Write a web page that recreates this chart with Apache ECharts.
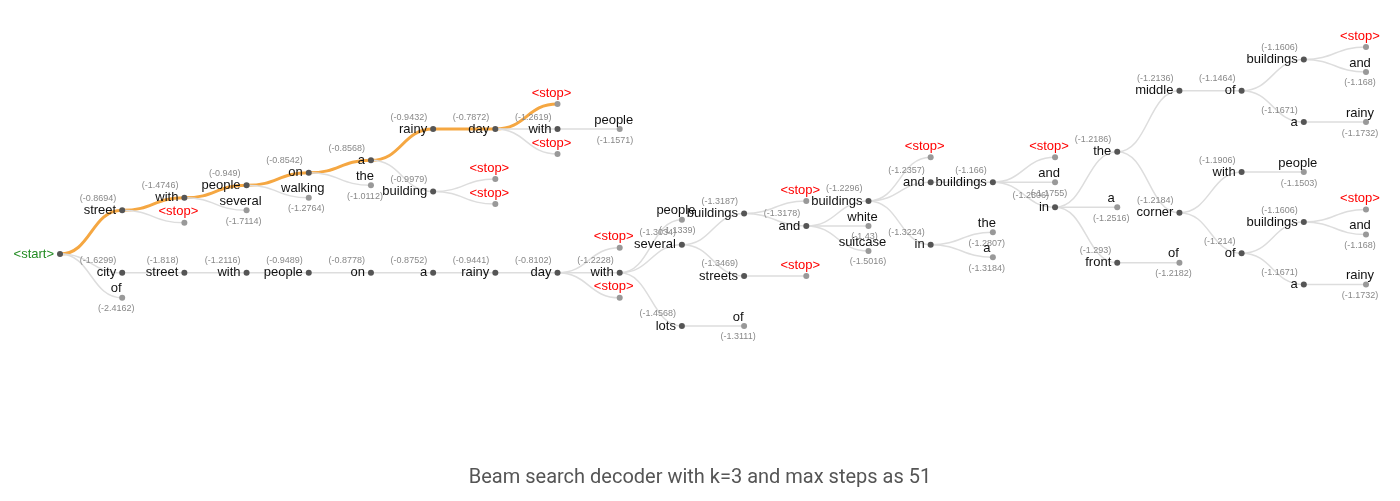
<!DOCTYPE html>
<html><head><meta charset="utf-8">
<script src="https://cdn.jsdelivr.net/npm/echarts@6/dist/echarts.min.js"></script>
<style>html,body{margin:0;padding:0;background:#fff}#c{width:1400px;height:501px}</style>
</head><body><div id="c"></div>
<script>
const parents = [-1,0,0,0,1,1,4,4,6,6,8,8,10,10,12,14,14,14,16,13,13,2,21,22,23,24,25,26,27,27,27,29,29,29,32,32,33,34,34,35,38,38,38,40,40,40,44,45,45,46,46,46,51,51,51,52,52,54,55,56,56,58,58,61,61,62,59,60,60,67,67,68];
const words = ['<start>','street','city','of','with','<stop>','people','several','on','walking','a','the','rainy','building','day','<stop>','with','<stop>','people','<stop>','<stop>','street','with','people','on','a','rainy','day','<stop>','with','<stop>','people','several','lots','buildings','streets','of','<stop>','and','<stop>','buildings','white','suitcase','<stop>','and','in','buildings','the','a','<stop>','and','in','the','a','front','middle','corner','of','of','with','of','buildings','a','<stop>','and','rainy','people','buildings','a','<stop>','and','rainy'];
const scores = [null,-0.8694,-1.6299,-2.4162,-1.4746,null,-0.949,-1.7114,-0.8542,-1.2764,-0.8568,-1.0112,-0.9432,-0.9979,-0.7872,null,-1.2619,null,-1.1571,null,null,-1.818,-1.2116,-0.9489,-0.8778,-0.8752,-0.9441,-0.8102,null,-1.2228,null,-1.1339,-1.3034,-1.4568,-1.3187,-1.3469,-1.3111,null,-1.3178,null,-1.2296,-1.43,-1.5016,null,-1.2357,-1.3224,-1.166,-1.2807,-1.3184,null,-1.1755,-1.2506,-1.2186,-1.2516,-1.293,-1.2136,-1.2184,-1.2182,-1.1464,-1.1906,-1.214,-1.1606,-1.1671,null,-1.168,-1.1732,-1.1503,-1.1606,-1.1671,null,-1.168,-1.1732];
const bestPath = [1,4,6,8,10,12,14,15];
const titleText = 'Beam search decoder with k=3 and max steps as 51';

const items = words.map((w,i)=>({name:w, value:scores[i], children:[]}));
parents.forEach((p,i)=>{ if(p>=0) items[p].children.push(items[i]); });
items.forEach((it,i)=>{
  const leaf = it.children.length===0;
  const stop = it.name==='<stop>';
  const sc = it.value==null ? '' : '('+it.value+')';
  if(!it.children.length) delete it.children;
  it.itemStyle = {color: leaf ? '#999' : '#555'};
  if(bestPath.includes(i)) it.lineStyle = {color:'#f5a742', width:3};
  if(i===0){
    it.label = {position:'left', distance:3, formatter:'{g|<start>}'};
  } else if(leaf){
    it.label = {position:'inside', align:'center', verticalAlign:'middle', offset:[-6, stop?-11:0],
      formatter: stop ? '{r|<stop>}' : '{w|'+it.name+'}\n{gap|}\n{s|'+sc+'}'};
  } else {
    it.label = {position:'left', distance:3, align:'right', offset:[0,-5],
      formatter:'{s|'+sc+'}\n{w|'+it.name+'}'};
  }
});

const chart = echarts.init(document.getElementById('c'));
chart.setOption({
  animation:false,
  title:{text:titleText, left:'center', bottom:8, textStyle:{color:'#555', fontSize:20, fontWeight:'normal', fontFamily:'Roboto'}},
  series:[{
    type:'tree', data:[items[0]], layout:'orthogonal', orient:'LR',
    left:60, right:34, top:22, bottom:150,
    symbol:'circle', symbolSize:6, initialTreeDepth:-1, expandAndCollapse:false, roam:false,
    lineStyle:{color:'#ddd', width:1.5, curveness:0.5},
    label:{fontFamily:'Arial', rich:{
      s:{fontSize:9, color:'#888', align:'right', lineHeight:10},
      w:{fontSize:13, color:'#111', lineHeight:14},
      r:{fontSize:13, color:'#f00'},
      g:{fontSize:13, color:'#228B22'},
      gap:{fontSize:6, lineHeight:8}
    }},
    emphasis:{disabled:true}
  }]
});
</script></body></html>
